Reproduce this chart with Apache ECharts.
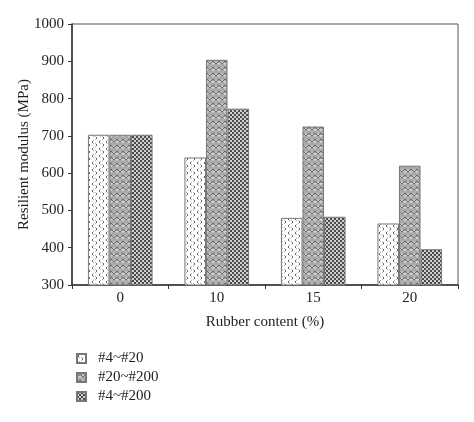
<!DOCTYPE html>
<html>
<head>
<meta charset="utf-8">
<script src="https://cdn.jsdelivr.net/npm/echarts@6/dist/echarts.min.js"></script>
<style>
  html, body { margin: 0; padding: 0; background: #fff; }
  #chart { width: 474px; height: 422px; }
</style>
</head>
<body>
<div id="chart"></div>
<script>
const categories = ['0', '10', '15', '20']
const seriesNames = ['#4~#20', '#20~#200', '#4~#200']
const fine = [703, 642, 480, 465] // #4~#20
const mid = [703, 904, 725, 620] // #20~#200
const full = [703, 773, 483, 396] // #4~#200

const FONT = '"Liberation Serif", "DejaVu Serif", serif'

// small repeating fills, one per gradation
function makePattern(kind) {
  const c = document.createElement('canvas')
  const ctx = c.getContext('2d')
  if (kind === 'dots') {
    c.width = 7; c.height = 7
    ctx.fillStyle = '#fff'
    ctx.fillRect(0, 0, 7, 7)
    ctx.strokeStyle = '#555'
    ctx.lineWidth = 0.9
    ctx.beginPath()
    ctx.moveTo(2.5, 0.5); ctx.lineTo(1, 2); ctx.lineTo(2.5, 3.5)
    ctx.moveTo(4.5, 3.5); ctx.lineTo(6, 5); ctx.lineTo(4.5, 6.5)
    ctx.stroke()
  } else if (kind === 'zigzag') {
    c.width = 6; c.height = 6
    ctx.fillStyle = '#aaa'
    ctx.fillRect(0, 0, 6, 6)
    ctx.strokeStyle = '#f0f0f0'
    ctx.lineWidth = 1
    ctx.beginPath()
    ctx.moveTo(0, 1.5); ctx.lineTo(3, 4.5); ctx.lineTo(6, 1.5)
    ctx.stroke()
    ctx.strokeStyle = '#666'
    ctx.beginPath()
    ctx.moveTo(0, 4); ctx.lineTo(3, 1); ctx.lineTo(6, 4)
    ctx.stroke()
  } else {
    c.width = 4; c.height = 4
    ctx.fillStyle = '#d0d0d0'
    ctx.fillRect(0, 0, 4, 4)
    ctx.fillStyle = '#4a4a4a'
    ctx.fillRect(0, 0, 2, 2)
    ctx.fillRect(2, 2, 2, 2)
  }
  return { image: c, repeat: 'repeat' }
}

const fills = [makePattern('dots'), makePattern('zigzag'), makePattern('check')]
const values = [fine, mid, full]

const chart = echarts.init(document.getElementById('chart'))
chart.setOption({
  backgroundColor: '#fff',
  animation: false,
  grid: {
    left: 72, right: 16, top: 24, bottom: 137,
    show: true, borderColor: '#555', borderWidth: 1
  },
  legend: {
    orient: 'vertical',
    left: 71,
    top: 346,
    itemWidth: 9,
    itemHeight: 9,
    itemGap: 4,
    icon: 'rect',
    textStyle: { fontFamily: FONT, fontSize: 15, color: '#222', padding: [0, 0, 0, 7] },
    data: seriesNames
  },
  xAxis: {
    type: 'category',
    data: categories,
    name: 'Rubber content (%)',
    nameLocation: 'middle',
    nameGap: 30,
    nameTextStyle: { fontFamily: FONT, fontSize: 15, color: '#222' },
    axisLine: { lineStyle: { color: '#333', width: 1.5 } },
    axisTick: { show: true, length: 4, lineStyle: { color: '#333' } },
    axisLabel: { fontFamily: FONT, fontSize: 15, color: '#222', margin: 6 },
    splitLine: { show: false }
  },
  yAxis: {
    type: 'value',
    min: 300,
    max: 1000,
    interval: 100,
    name: 'Resilient modulus (MPa)',
    nameLocation: 'middle',
    nameGap: 40,
    nameMoveOverlap: false,
    nameTextStyle: { fontFamily: FONT, fontSize: 15, color: '#222' },
    axisLine: { show: true, lineStyle: { color: '#333', width: 1.5 } },
    axisTick: { show: true, length: 4, lineStyle: { color: '#333' } },
    axisLabel: { fontFamily: FONT, fontSize: 15, color: '#222', margin: 8, formatter: v => String(v) },
    splitLine: { show: false }
  },
  series: seriesNames.map((name, i) => ({
    name,
    type: 'bar',
    data: values[i],
    barGap: '0%',
    barCategoryGap: '33%',
    itemStyle: { color: fills[i], borderColor: '#777', borderWidth: 1 }
  }))
})
</script>
</body>
</html>
